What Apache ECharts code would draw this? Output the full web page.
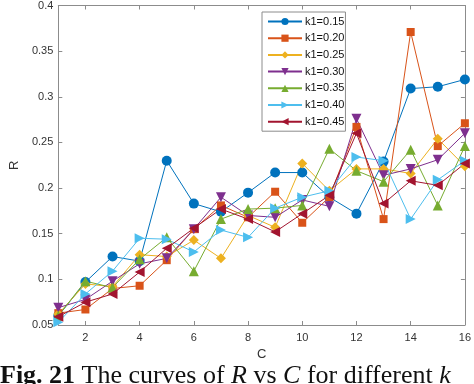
<!DOCTYPE html>
<html>
<head>
<meta charset="utf-8">
<script src="https://cdn.jsdelivr.net/npm/echarts@6/dist/echarts.min.js"></script>
<style>html,body{margin:0;padding:0;background:#fff;}#c{width:474px;height:384px;}</style>
</head>
<body>
<div id="c"></div>
<script>
const C = [1,2,3,4,5,6,7,8,9,10,11,12,13,14,15,16];
const k015 = [0.060,0.097,0.125,0.120,0.230,0.183,0.174,0.195,0.217,0.217,0.190,0.172,0.229,0.309,0.311,0.319];
const k020 = [0.063,0.067,0.090,0.093,0.121,0.155,0.181,0.168,0.196,0.162,0.190,0.267,0.166,0.371,0.246,0.271];
const k025 = [0.062,0.095,0.092,0.127,0.125,0.143,0.123,0.170,0.157,0.227,0.197,0.221,0.221,0.216,0.254,0.224];
const k030 = [0.069,0.078,0.098,0.117,0.123,0.155,0.190,0.170,0.168,0.187,0.180,0.276,0.214,0.221,0.231,0.260];
const k035 = [0.060,0.098,0.091,0.122,0.146,0.109,0.166,0.177,0.178,0.181,0.243,0.219,0.207,0.242,0.181,0.246];
const k040 = [0.053,0.084,0.109,0.145,0.144,0.130,0.154,0.146,0.178,0.190,0.197,0.234,0.230,0.166,0.209,0.230];
const k045 = [0.059,0.075,0.084,0.108,0.134,0.156,0.177,0.166,0.152,0.172,0.192,0.260,0.183,0.208,0.203,0.227];
const names = ['k1=0.15','k1=0.20','k1=0.25','k1=0.30','k1=0.35','k1=0.40','k1=0.45'];
const yTicks = [0.05,0.1,0.15,0.2,0.25,0.3,0.35,0.4];
const xTicks = [2,4,6,8,10,12,14,16];

const colors = ['#0072BD','#D95319','#EDB120','#7E2F8E','#77AC30','#4DBEEE','#A2142F'];
const symbols = ['circle','rect','diamond','triangle','triangle','triangle','triangle'];
const rotates = [0,0,0,180,0,-90,90];
const sizes = [10,8,10,10,10,10,10];
const allData = [k015,k020,k025,k030,k035,k040,k045];

const axisCol = '#8c8c8c';
const font = 'Liberation Sans';

const series = allData.map((d,i)=>({
  name: names[i], type:'line', xAxisIndex:0, yAxisIndex:0,
  data: C.map((c,j)=>[c,d[j]]),
  symbol: symbols[i], symbolRotate: rotates[i], symbolSize: sizes[i],
  showSymbol:true, animation:false,
  lineStyle:{color:colors[i], width:1},
  itemStyle:{color:colors[i], borderWidth:0}
}));

const chart = echarts.init(document.getElementById('c'), null, {renderer:'canvas'});
chart.setOption({
  animation:false,
  backgroundColor:'#fff',
  grid:{left:54, right:8, top:5, bottom:59, containLabel:false},
  xAxis:[{
    type:'value', min:1, max:16, interval:1, position:'bottom',
    name:'C', nameLocation:'middle', nameGap:23,
    nameTextStyle:{color:'#333', fontSize:13, fontFamily:font},
    axisLine:{show:true, lineStyle:{color:axisCol, width:1}},
    axisTick:{show:true, inside:true, length:4, lineStyle:{color:axisCol}, customValues:xTicks},
    axisLabel:{color:'#333', fontSize:11, fontFamily:font, margin:7, customValues:xTicks},
    splitLine:{show:false}
  },{
    type:'value', min:1, max:16, interval:1, position:'top',
    axisLine:{show:true, lineStyle:{color:axisCol, width:1}},
    axisTick:{show:true, inside:true, length:4, lineStyle:{color:axisCol}, customValues:xTicks},
    axisLabel:{show:false},
    splitLine:{show:false}
  }],
  yAxis:[{
    type:'value', min:0.05, max:0.4, interval:0.05, position:'left',
    name:'R', nameLocation:'middle', nameGap:36,
    nameTextStyle:{color:'#333', fontSize:13, fontFamily:font},
    axisLine:{show:true, lineStyle:{color:axisCol, width:1}},
    axisTick:{show:true, inside:true, length:4, lineStyle:{color:axisCol}},
    axisLabel:{color:'#333', fontSize:11, fontFamily:font, margin:5,
      formatter:v=>String(Math.round(v*100)/100)},
    splitLine:{show:false}
  },{
    type:'value', min:0.05, max:0.4, interval:0.05, position:'right',
    axisLine:{show:true, lineStyle:{color:axisCol, width:1}},
    axisTick:{show:true, inside:true, length:4, lineStyle:{color:axisCol}},
    axisLabel:{show:false},
    splitLine:{show:false}
  }],
  legend:{
    show:true, orient:'vertical', left:262, top:12,
    data:names,
    itemWidth:34, itemHeight:9, itemGap:5.7,
    padding:[4,1,4,5],
    backgroundColor:'#fff', borderColor:'#8c8c8c', borderWidth:1,
    textStyle:{color:'#111', fontSize:11, fontFamily:font, padding:[0,0,0,-2]}
  },
  graphic:[{
    type:'text', left:0, top:363,
    style:{
      text:'{b|Fig. 21} The curves of {i|R} vs {i|C} for different {i|k}',
      font:'26px "Liberation Serif"', fill:'#111',
      rich:{
        b:{font:'bold 26px "Liberation Serif"', fill:'#111'},
        i:{font:'italic 26px "Liberation Serif"', fill:'#111'}
      }
    }
  }],
  series: series
});
</script>
</body>
</html>
